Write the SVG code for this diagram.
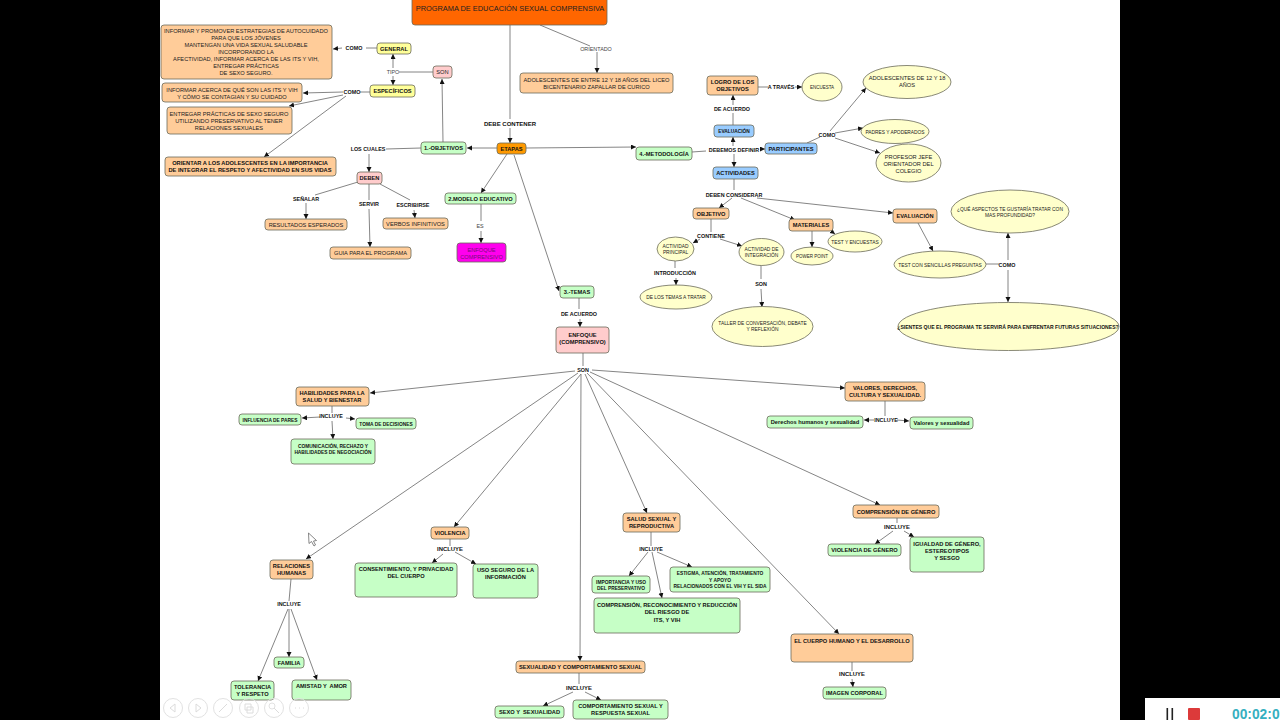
<svg xmlns="http://www.w3.org/2000/svg" width="1280" height="720" viewBox="0 0 1280 720">
<style>
text{font-family:"Liberation Sans",Arial,sans-serif;text-anchor:middle;fill:#222;font-size:5.7px}
.b{font-weight:bold;fill:#111}
.s45{font-size:4.5px}.s5{font-size:4.85px}.s51{font-size:5.1px}.s75{font-size:7.4px}
.lb{font-weight:bold;fill:#111;font-size:5.4px}
.lg{fill:#444;font-size:5.4px}
.s6{font-size:6px}.s59{font-size:5.9px}
.mt{fill:#77107a}
rect.n,ellipse{stroke:#6b6b5a;stroke-width:.8}
rect.n{rx:3px;ry:3px}
.or{fill:#FFCC99}.gr{fill:#C6FFC6}.ye{fill:#FFFF99}.pk{fill:#FFCCCC}.bl{fill:#99CCFF}.et{fill:#FF9900}.ti{fill:#FF6600}.mg{fill:#FF00EE}
ellipse{fill:#FFFFCC}
#connectors line{stroke:#777;stroke-width:.9}
#connectors line.a{marker-end:url(#ar)}
.nav circle{fill:none;stroke:#e2e2e2;stroke-width:1}
.nav path{fill:none;stroke:#dcdcdc;stroke-width:1}
</style>
<defs><marker id="ar" markerUnits="userSpaceOnUse" markerWidth="6" markerHeight="6" refX="5" refY="2.5" orient="auto"><path d="M0,0L5,2.5L0,5z" fill="#111"/></marker></defs>
<rect width="1280" height="720" fill="#000"/>
<rect x="160" width="960" height="720" fill="#fff"/>
<g id="connectors">
<line x1="510" y1="25" x2="510" y2="119"/><line class="a" x1="510" y1="128" x2="510" y2="143"/>
<line x1="540" y1="25" x2="590" y2="46"/><line class="a" x1="597" y1="52" x2="597" y2="73"/>
<line x1="377" y1="48" x2="366" y2="48"/><line class="a" x1="342" y1="48" x2="333" y2="49"/>
<line x1="433" y1="72" x2="399" y2="72"/><line class="a" x1="393" y1="68" x2="393" y2="54"/><line class="a" x1="393" y1="76" x2="393" y2="85"/>
<line x1="370" y1="92" x2="360" y2="92"/><line class="a" x1="343" y1="92" x2="303" y2="93"/><line class="a" x1="343" y1="95" x2="289" y2="106"/><line class="a" x1="346" y1="96" x2="264" y2="157"/>
<line class="a" x1="443" y1="142" x2="442" y2="79"/>
<line class="a" x1="497" y1="148" x2="467" y2="148"/>
<line x1="421" y1="148" x2="386" y2="149"/><line class="a" x1="369" y1="154" x2="369" y2="172"/>
<line x1="358" y1="182" x2="315" y2="195"/><line class="a" x1="306" y1="203" x2="306" y2="219"/>
<line x1="369" y1="184" x2="369" y2="200"/><line class="a" x1="369" y1="209" x2="370" y2="247"/>
<line x1="380" y1="184" x2="410" y2="200"/><line class="a" x1="414" y1="210" x2="415" y2="218"/>
<line class="a" x1="507" y1="154" x2="481" y2="193"/>
<line x1="481" y1="204" x2="481" y2="221"/><line class="a" x1="481" y1="231" x2="481" y2="243"/>
<line class="a" x1="514" y1="155" x2="559" y2="291"/>
<line x1="579" y1="298" x2="579" y2="309"/><line class="a" x1="580" y1="319" x2="580" y2="327"/>
<line x1="583" y1="353" x2="583" y2="366"/>
<line class="a" x1="526" y1="148" x2="636" y2="147"/>
<line x1="692" y1="152" x2="706" y2="151"/><line class="a" x1="761" y1="149" x2="765" y2="149"/><line class="a" x1="733" y1="146" x2="733" y2="137"/><line class="a" x1="734" y1="154" x2="734" y2="167"/>
<line x1="733" y1="125" x2="733" y2="113"/><line class="a" x1="733" y1="105" x2="733" y2="95"/>
<line x1="758" y1="87" x2="768" y2="87"/><line class="a" x1="795" y1="87" x2="802" y2="87"/>
<line x1="807" y1="143" x2="820" y2="137"/><line class="a" x1="830" y1="131" x2="866" y2="88"/><line class="a" x1="835" y1="133" x2="863" y2="128"/><line class="a" x1="835" y1="138" x2="880" y2="153"/>
<line x1="734" y1="179" x2="734" y2="190"/><line class="a" x1="732" y1="198" x2="719" y2="208"/><line class="a" x1="741" y1="198" x2="795" y2="220"/><line class="a" x1="757" y1="198" x2="893" y2="213"/>
<line x1="711" y1="219" x2="711" y2="232"/><line class="a" x1="700" y1="239" x2="693" y2="243"/><line class="a" x1="720" y1="239" x2="742" y2="246"/>
<line x1="675" y1="261" x2="675" y2="268"/><line class="a" x1="676" y1="278" x2="676" y2="285"/>
<line x1="761" y1="265" x2="761" y2="279"/><line class="a" x1="761" y1="289" x2="762" y2="307"/>
<line class="a" x1="812" y1="231" x2="812" y2="247"/><line class="a" x1="831" y1="231" x2="835" y2="234"/>
<line class="a" x1="918" y1="223" x2="933" y2="251"/>
<line x1="986" y1="264" x2="999" y2="264"/><line class="a" x1="1008" y1="260" x2="1008" y2="233"/><line class="a" x1="1008" y1="270" x2="1008" y2="302"/>
<line class="a" x1="575" y1="371" x2="370" y2="393"/><line class="a" x1="578" y1="373" x2="306" y2="559"/><line class="a" x1="581" y1="374" x2="454" y2="527"/><line class="a" x1="581" y1="374" x2="580" y2="661"/><line class="a" x1="585" y1="374" x2="647" y2="513"/><line class="a" x1="587" y1="373" x2="839" y2="634"/><line class="a" x1="590" y1="372" x2="880" y2="505"/><line class="a" x1="592" y1="370" x2="845" y2="388"/>
<line x1="332" y1="406" x2="332" y2="413"/><line class="a" x1="320" y1="417" x2="302" y2="418"/><line class="a" x1="346" y1="418" x2="355" y2="419"/><line class="a" x1="332" y1="421" x2="333" y2="439"/>
<line x1="885" y1="401" x2="885" y2="416"/><line class="a" x1="874" y1="420" x2="864" y2="420"/><line class="a" x1="897" y1="420" x2="909" y2="421"/>
<line x1="450" y1="539" x2="450" y2="546"/><line class="a" x1="443" y1="554" x2="432" y2="563"/><line class="a" x1="455" y1="552" x2="476" y2="564"/>
<line x1="291" y1="579" x2="289" y2="601"/><line class="a" x1="288" y1="609" x2="258" y2="681"/><line class="a" x1="289" y1="609" x2="289" y2="657"/><line class="a" x1="291" y1="609" x2="317" y2="680"/>
<line x1="651" y1="532" x2="651" y2="546"/><line class="a" x1="648" y1="552" x2="629" y2="576"/><line class="a" x1="652" y1="552" x2="662" y2="598"/><line class="a" x1="657" y1="552" x2="692" y2="567"/>
<line x1="897" y1="518" x2="897" y2="523"/><line class="a" x1="893" y1="531" x2="875" y2="544"/><line class="a" x1="904" y1="531" x2="914" y2="537"/>
<line x1="579" y1="673" x2="579" y2="684"/><line class="a" x1="573" y1="692" x2="543" y2="706"/><line class="a" x1="585" y1="692" x2="601" y2="700"/>
<line x1="852" y1="662" x2="852" y2="671"/><line class="a" x1="852" y1="679" x2="853" y2="687"/>
</g>
<g id="connector-labels">
<text class="lb s6" x="510" y="126">DEBE CONTENER</text>
<text class="lg" x="596" y="51">ORIENTADO</text>
<text class="lb" x="354" y="50">COMO</text>
<text class="lg" x="393" y="74">TIPO</text>
<text class="lb" x="352" y="94">COMO</text>
<text class="lb" x="368" y="151">LOS CUALES</text>
<text class="lb" x="306" y="201">SEÑALAR</text>
<text class="lb" x="369" y="206">SERVIR</text>
<text class="lb" x="413" y="207">ESCRIBIRSE</text>
<text class="lg" x="480" y="228">ES</text>
<text class="lb" x="579" y="316">DE ACUERDO</text>
<text class="lb" x="583" y="372">SON</text>
<text class="lb" x="734" y="152">DEBEMOS DEFINIR</text>
<text class="lb" x="732" y="111">DE ACUERDO</text>
<text class="lb" x="781" y="89">A TRAVÉS</text>
<text class="lb" x="827" y="137">COMO</text>
<text class="lb" x="734" y="197">DEBEN CONSIDERAR</text>
<text class="lb" x="711" y="238">CONTIENE</text>
<text class="lb" x="675" y="275">INTRODUCCIÓN</text>
<text class="lb" x="761" y="286">SON</text>
<text class="lb" x="1007" y="267">COMO</text>
<text class="lb" x="331" y="418">INCLUYE</text>
<text class="lb" x="886" y="422">INCLUYE</text>
<text class="lb s59" x="450" y="551">INCLUYE</text>
<text class="lb" x="289" y="606">INCLUYE</text>
<text class="lb" x="651" y="551">INCLUYE</text>
<text class="lb s59" x="897" y="529">INCLUYE</text>
<text class="lb s59" x="579" y="690">INCLUYE</text>
<text class="lb s59" x="852" y="676">INCLUYE</text>
</g>
<g id="n-titulo"><rect class="n ti" x="412" y="-3" width="195" height="28"/><text class="s75" x="510" y="11">PROGRAMA DE EDUCACIÓN SEXUAL COMPRENSIVA</text></g>
<g id="n-informar"><rect class="n or" x="161" y="25" width="171" height="54"/>
<text x="246" y="33">INFORMAR Y PROMOVER ESTRATEGIAS DE AUTOCUIDADO</text><text x="246" y="40">PARA QUE LOS JÓVENES</text><text x="246" y="47">MANTENGAN UNA VIDA SEXUAL SALUDABLE</text><text x="246" y="54">INCORPORANDO LA</text><text x="246" y="61">AFECTIVIDAD, INFORMAR ACERCA DE LAS ITS Y VIH,</text><text x="246" y="68">ENTREGAR PRÁCTICAS</text><text x="246" y="75">DE SEXO SEGURO.</text></g>
<g id="n-general"><rect class="n ye" x="377" y="43" width="34" height="11"/><text class="b" x="394" y="50.5">GENERAL</text></g>
<g id="n-son"><rect class="n pk" x="433" y="66" width="19" height="12"/><text x="442.500" y="74">SON</text></g>
<g id="n-especificos"><rect class="n ye" x="370" y="85" width="45" height="12"/><text class="b" x="392.500" y="93">ESPECÍFICOS</text></g>
<g id="n-its"><rect class="n or" x="162" y="83" width="140" height="19"/><text x="232" y="91.500">INFORMAR ACERCA DE QUÉ SON LAS ITS Y VIH</text><text x="232" y="98.500">Y CÓMO SE CONTAGIAN Y SU CUIDADO</text></g>
<g id="n-practicas"><rect class="n or" x="167" y="107" width="125" height="27"/><text x="229" y="116">ENTREGAR PRÁCTICAS DE SEXO SEGURO</text><text x="229" y="123">UTILIZANDO PRESERVATIVO AL TENER</text><text x="229" y="130">RELACIONES SEXUALES</text></g>
<g id="n-orientar"><rect class="n or" x="165" y="157" width="171" height="19"/><text class="b" x="250" y="165">ORIENTAR A LOS ADOLESCENTES EN LA IMPORTANCIA</text><text class="b" x="250" y="172">DE INTEGRAR EL RESPETO Y AFECTIVIDAD EN SUS VIDAS</text></g>
<g id="n-objetivos"><rect class="n gr" x="421" y="142" width="45" height="12"/><text class="b" x="443.500" y="150">1.-OBJETIVOS</text></g>
<g id="n-etapas"><rect class="n et" x="497" y="143" width="29" height="11"/><text class="b" x="511.500" y="150.500">ETAPAS</text></g>
<g id="n-deben"><rect class="n pk" x="357" y="172" width="25" height="12"/><text class="b" x="369.500" y="180">DEBEN</text></g>
<g id="n-resultados"><rect class="n or" x="265" y="219" width="82" height="11"/><text x="306" y="227">RESULTADOS ESPERADOS</text></g>
<g id="n-guia"><rect class="n or" x="330" y="247" width="81" height="12"/><text x="370.500" y="255">GUIA PARA EL PROGRAMA</text></g>
<g id="n-verbos"><rect class="n or" x="383" y="218" width="65" height="11"/><text x="415.500" y="226">VERBOS INFINITIVOS</text></g>
<g id="n-modelo"><rect class="n gr" x="445" y="193" width="71" height="11"/><text class="b" x="480.500" y="201">2.MODELO EDUCATIVO</text></g>
<g id="n-enfoque1"><rect class="n mg" x="457" y="243" width="49" height="19"/><text class="mt" x="481.500" y="251.500">ENFOQUE</text><text class="mt" x="481.500" y="258.500">COMPRENSIVO</text></g>
<g id="n-adol"><rect class="n or" x="520" y="73" width="153" height="20"/><text x="596.500" y="82">ADOLESCENTES DE ENTRE 12 Y 18 AÑOS DEL LICEO</text><text x="596.500" y="89">BICENTENARIO ZAPALLAR DE CURICO</text></g>
<g id="n-logro"><rect class="n or" x="707" y="76" width="51" height="19"/><text class="b" x="732.500" y="84">LOGRO DE LOS</text><text class="b" x="732.500" y="91">OBJETIVOS</text></g>
<g id="n-encuesta"><ellipse cx="822" cy="87" rx="20" ry="14"/><text class="s45" x="822" y="89">ENCUESTA</text></g>
<g id="n-evaluacion1"><rect class="n bl" x="714" y="125" width="40" height="12"/><text class="b s5" x="734" y="133">EVALUACIÓN</text></g>
<g id="n-participantes"><rect class="n bl" x="765" y="143" width="52" height="11"/><text class="b" x="791" y="151">PARTICIPANTES</text></g>
<g id="n-metodologia"><rect class="n gr" x="636" y="147" width="56" height="13"/><text class="b" x="664" y="156">4.-METODOLOGÍA</text></g>
<g id="n-actividades"><rect class="n bl" x="713" y="167" width="45" height="12"/><text class="b" x="735.500" y="175">ACTIVIDADES</text></g>
<g id="n-objetivo"><rect class="n or" x="693" y="208" width="36" height="11"/><text class="b" x="711" y="216">OBJETIVO</text></g>
<g id="n-materiales"><rect class="n or" x="789" y="219" width="44" height="12"/><text class="b" x="811" y="227">MATERIALES</text></g>
<g id="n-evaluacion2"><rect class="n or" x="893" y="209" width="44" height="14"/><text class="b" x="915" y="218">EVALUACIÓN</text></g>
<g id="n-principal"><ellipse cx="675.500" cy="249" rx="18.500" ry="12"/><text class="s5" x="675.500" y="248">ACTIVIDAD</text><text class="s5" x="675.500" y="254">PRINCIPAL</text></g>
<g id="n-integracion"><ellipse cx="761.500" cy="252" rx="22.500" ry="13.500"/><text class="s5" x="761.500" y="251">ACTIVIDAD DE</text><text class="s5" x="761.500" y="257">INTEGRACIÓN</text></g>
<g id="n-power"><ellipse cx="812" cy="256" rx="21" ry="9"/><text class="s45" x="812" y="258">POWER POINT</text></g>
<g id="n-test"><ellipse cx="855" cy="241.500" rx="27" ry="10.500"/><text class="s5" x="855" y="243.500">TEST Y ENCUESTAS</text></g>
<g id="n-sencillas"><ellipse cx="940" cy="264.500" rx="46" ry="13.500"/><text class="s5" x="940" y="266.500">TEST CON SENCILLAS PREGUNTAS</text></g>
<g id="n-aspectos"><ellipse cx="1010" cy="211.500" rx="59" ry="21.500"/><text class="s5" x="1010" y="211">¿QUÉ ASPECTOS TE GUSTARÍA TRATAR CON</text><text class="s5" x="1010" y="217">MAS PROFUNDIDAD?</text></g>
<g id="n-sientes"><ellipse cx="1008.500" cy="326.500" rx="110.500" ry="24"/><text class="b s51" x="1008" y="329">¿SIENTES QUE EL PROGRAMA TE SERVIRÁ PARA ENFRENTAR FUTURAS SITUACIONES?</text></g>
<g id="n-adol12"><ellipse cx="907" cy="82" rx="44" ry="16.500"/><text x="907" y="80">ADOLESCENTES DE 12 Y 18</text><text x="907" y="87">AÑOS</text></g>
<g id="n-padres"><ellipse cx="895" cy="131.500" rx="34" ry="12"/><text class="s5" x="895" y="133.500">PADRES Y APODERADOS</text></g>
<g id="n-profesor"><ellipse cx="908.500" cy="163" rx="32.500" ry="19"/><text x="908.500" y="159">PROFESOR JEFE</text><text x="908.500" y="166">ORIENTADOR DEL</text><text x="908.500" y="173">COLEGIO</text></g>
<g id="n-temas-tratar"><ellipse cx="676" cy="297" rx="36" ry="12"/><text class="s5" x="676" y="299">DE LOS TEMAS A TRATAR</text></g>
<g id="n-taller"><ellipse cx="762.500" cy="326.500" rx="50.500" ry="20"/><text class="s5" x="762.500" y="325">TALLER DE CONVERSACIÓN, DEBATE</text><text class="s5" x="762.500" y="331">Y REFLEXIÓN</text></g>
<g id="n-temas"><rect class="n gr" x="560" y="286" width="34" height="12"/><text class="b" x="577" y="294">3.-TEMAS</text></g>
<g id="n-enfoque2"><rect class="n pk" x="556" y="327" width="53" height="26"/><text class="b" x="582.500" y="337">ENFOQUE</text><text class="b" x="582.500" y="344">(COMPRENSIVO)</text></g>
<g id="n-habilidades"><rect class="n or" x="296" y="387" width="73" height="19"/><text class="b" x="332" y="395">HABILIDADES PARA LA</text><text class="b" x="332" y="402">SALUD Y BIENESTAR</text></g>
<g id="n-influencia"><rect class="n gr" x="239" y="414" width="62" height="11"/><text class="b s5" x="270" y="421.500">INFLUENCIA DE PARES</text></g>
<g id="n-toma"><rect class="n gr" x="356" y="418" width="60" height="11"/><text class="b s5" x="386" y="425.500">TOMA DE DECISIONES</text></g>
<g id="n-comunicacion"><rect class="n gr" x="291" y="439" width="84" height="25"/><text class="b s5" x="333" y="447.500">COMUNICACIÓN, RECHAZO Y</text><text class="b s5" x="333" y="453.500">HABILIDADES DE NEGOCIACIÓN</text></g>
<g id="n-violencia"><rect class="n or" x="431" y="527" width="38" height="12"/><text class="b" x="450" y="535">VIOLENCIA</text></g>
<g id="n-relaciones"><rect class="n or" x="270" y="560" width="43" height="19"/><text class="b" x="291.500" y="568">RELACIONES</text><text class="b" x="291.500" y="575">HUMANAS</text></g>
<g id="n-consentimiento"><rect class="n gr" x="355" y="563" width="102" height="34"/><text class="b" x="406" y="570.500">CONSENTIMIENTO, Y PRIVACIDAD</text><text class="b" x="406" y="577.500">DEL CUERPO</text></g>
<g id="n-uso"><rect class="n gr" x="473" y="564" width="65" height="34"/><text class="b" x="505.500" y="571.500">USO SEGURO DE LA</text><text class="b" x="505.500" y="578.500">INFORMACIÓN</text></g>
<g id="n-valores"><rect class="n or" x="845" y="382" width="80" height="19"/><text class="b" x="885" y="390">VALORES, DERECHOS,</text><text class="b" x="885" y="397">CULTURA Y SEXUALIDAD.</text></g>
<g id="n-derechos"><rect class="n gr" x="767" y="416" width="96" height="12"/><text class="b" x="815" y="424">Derechos humanos y sexualidad</text></g>
<g id="n-valsex"><rect class="n gr" x="910" y="417" width="63" height="12"/><text class="b" x="941.500" y="425">Valores y sexualidad</text></g>
<g id="n-genero"><rect class="n or" x="853" y="505" width="86" height="13"/><text class="b" x="896" y="514">COMPRENSIÓN DE GÉNERO</text></g>
<g id="n-viogen"><rect class="n gr" x="828" y="544" width="73" height="12"/><text class="b" x="864.500" y="552">VIOLENCIA DE GÉNERO</text></g>
<g id="n-igualdad"><rect class="n gr" x="910" y="537" width="74" height="35"/><text class="b" x="947" y="546">IGUALDAD DE GÉNERO,</text><text class="b" x="947" y="553">ESTEREOTIPOS</text><text class="b" x="947" y="560">Y SESGO</text></g>
<g id="n-salud"><rect class="n or" x="623" y="513" width="57" height="19"/><text class="b" x="651.500" y="521">SALUD SEXUAL Y</text><text class="b" x="651.500" y="528">REPRODUCTIVA</text></g>
<g id="n-importancia"><rect class="n gr" x="592" y="576" width="58" height="17"/><text class="b s5" x="621" y="583.500">IMPORTANCIA Y USO</text><text class="b s5" x="621" y="589.500">DEL PRESERVATIVO</text></g>
<g id="n-estigma"><rect class="n gr" x="670" y="567" width="100" height="25"/><text class="b s5" x="720" y="575">ESTIGMA, ATENCIÓN, TRATAMIENTO</text><text class="b s5" x="720" y="581.500">Y APOYO</text><text class="b s5" x="720" y="587.500">RELACIONADOS CON EL VIH Y EL SIDA</text></g>
<g id="n-reconocimiento"><rect class="n gr" x="594" y="598" width="146" height="35"/><text class="b" x="667" y="607">COMPRENSIÓN, RECONOCIMIENTO Y REDUCCIÓN</text><text class="b" x="667" y="614">DEL RIESGO DE</text><text class="b" x="667" y="622">ITS, Y VIH</text></g>
<g id="n-familia"><rect class="n gr" x="274" y="657" width="30" height="11"/><text class="b" x="289" y="665">FAMILIA</text></g>
<g id="n-tolerancia"><rect class="n gr" x="231" y="681" width="43" height="19"/><text class="b" x="252.500" y="689">TOLERANCIA</text><text class="b" x="252.500" y="696">Y RESPETO</text></g>
<g id="n-amistad"><rect class="n gr" x="292" y="680" width="59" height="20"/><text class="b" x="321.500" y="688" xml:space="preserve">AMISTAD Y  AMOR</text></g>
<g id="n-sexualidad"><rect class="n or" x="516" y="661" width="129" height="12"/><text class="b" x="580.500" y="669">SEXUALIDAD Y COMPORTAMIENTO SEXUAL</text></g>
<g id="n-sexo"><rect class="n gr" x="495" y="706" width="69" height="12"/><text class="b" x="529.500" y="714" xml:space="preserve">SEXO Y  SEXUALIDAD</text></g>
<g id="n-comportamiento"><rect class="n gr" x="573" y="700" width="95" height="19"/><text class="b" x="620.500" y="708">COMPORTAMIENTO SEXUAL Y</text><text class="b" x="620.500" y="715">RESPUESTA SEXUAL</text></g>
<g id="n-cuerpo"><rect class="n or" x="791" y="634" width="122" height="28"/><text class="b" x="852" y="642.500">EL CUERPO HUMANO Y EL DESARROLLO</text></g>
<g id="n-imagen"><rect class="n gr" x="823" y="687" width="63" height="12"/><text class="b" x="854.500" y="695">IMAGEN CORPORAL</text></g>
<path d="M308.500,533L309,543.500L311.500,541.500L314,546L315.500,545L313.500,541L316.500,540.500z" fill="#fff" stroke="#555" stroke-width=".7"/>
<g class="nav"><circle cx="173" cy="708" r="9.500"/><path d="M175,704L170,708L175,712z"/><circle cx="198" cy="708" r="9.500"/><path d="M196,704L201,708L196,712z"/><circle cx="223" cy="708" r="9.500"/><path d="M219,712L227,704"/><circle cx="249" cy="708" r="9.500"/><path d="M245,704h6v6h-6zM247,707h6v6h-6z"/><circle cx="274" cy="708" r="9.500"/><circle cx="272" cy="706" r="3"/><path d="M274,708L279,713"/><circle cx="299" cy="708" r="9.500"/><path d="M295,708h1M299,708h1M303,708h1"/></g>
<rect x="1145" y="698" width="135" height="22" fill="#fff"/>
<rect x="1166.500" y="708" width="1.600" height="12" fill="#222"/><rect x="1171.500" y="708" width="1.600" height="12" fill="#222"/>
<rect x="1188" y="708" width="12" height="12" rx="1" fill="#DC3A3A"/>
<text x="1232" y="719" style="text-anchor:start;font-size:13.800px;font-weight:bold;fill:#35AFC0">00:02:0</text>
</svg>
